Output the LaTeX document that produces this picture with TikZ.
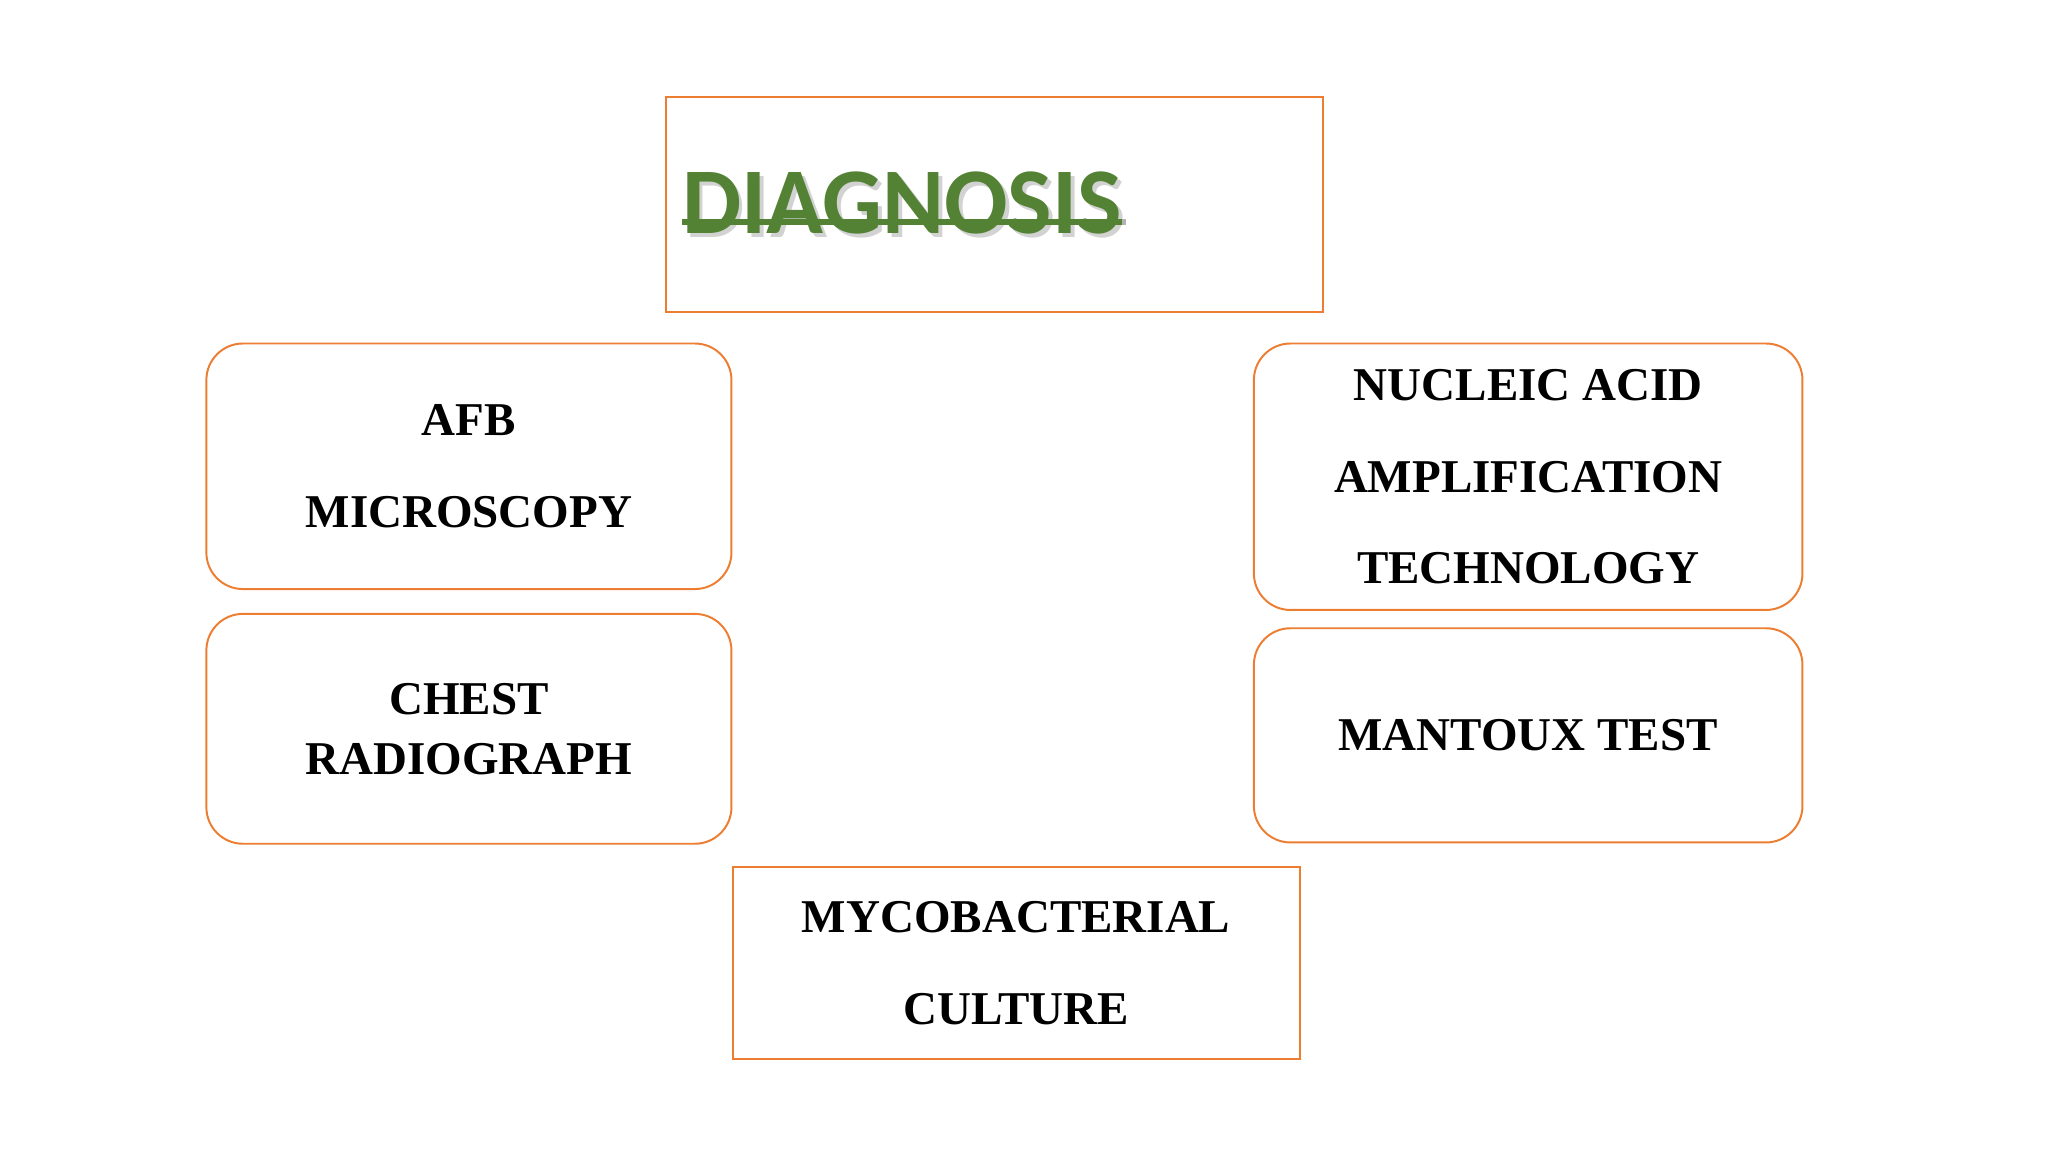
\documentclass[tikz,border=0pt]{standalone}
\usepackage{fontspec}
\setmainfont{Liberation Serif}
\newfontfamily\titlefont{Carlito}
\begin{document}
\begin{tikzpicture}[x=1pt,y=-1pt]
\definecolor{boxorange}{HTML}{ED7D31}
\definecolor{titlegreen}{HTML}{548235}
\tikzset{
  rbox/.style={draw=boxorange,line width=1.5pt,rounded corners=28pt,align=center,font=\bfseries\fontsize{36}{70}\selectfont,inner sep=0pt},
  sbox/.style={draw=boxorange,line width=1.5pt,align=center,font=\bfseries\fontsize{36}{70}\selectfont,inner sep=0pt}
}
\useasboundingbox (0,0) rectangle (1568,882);
\node[sbox,minimum width=503pt,minimum height=165pt] (diag) at (761.5,156.5) {};
\node[anchor=base west,inner sep=0pt,font=\titlefont\bfseries\fontsize{72}{80}\selectfont,text=black!35,opacity=0.5] (shadow) at (525,182) {DIAGNOSIS};
\node[anchor=base west,inner sep=0pt,font=\titlefont\bfseries\fontsize{72}{80}\selectfont,text=titlegreen] (title) at (522,179) {DIAGNOSIS};
\draw[black!30,line width=4pt] ([yshift=12pt]shadow.base west) -- ([yshift=12pt]shadow.base east);
\draw[titlegreen,line width=4pt] ([yshift=9pt]title.base west) -- ([yshift=9pt]title.base east);
\node[rbox,minimum width=402pt,minimum height=188pt] (afb) at (359,357) {AFB\\MICROSCOPY};
\node[rbox,minimum width=402pt,minimum height=176pt,font=\bfseries\fontsize{36}{46}\selectfont] (chest) at (359,558) {CHEST\\RADIOGRAPH};
\node[rbox,minimum width=420pt,minimum height=204pt] (naat) at (1170,365) {NUCLEIC ACID\\AMPLIFICATION\\TECHNOLOGY};
\node[rbox,minimum width=420pt,minimum height=164pt] (mantoux) at (1170,563) {MANTOUX TEST};
\node[sbox,minimum width=434pt,minimum height=147pt] (myco) at (778,737.5) {MYCOBACTERIAL\\CULTURE};
\end{tikzpicture}
\end{document}
